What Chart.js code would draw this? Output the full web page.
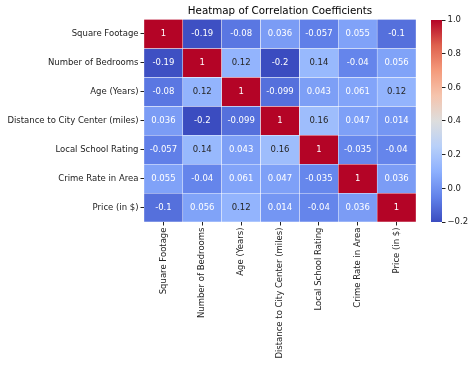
<!DOCTYPE html>
<html><head><meta charset="utf-8">
<script src="https://cdn.jsdelivr.net/npm/chart.js@4"></script>
<style>
html,body{margin:0;padding:0;background:#fff;}
#wrap{position:relative;width:474px;height:366px;}
#main{position:absolute;left:0;top:0;}
#cbar{position:absolute;left:420px;top:0;}
</style></head>
<body><div id="wrap">
<canvas id="main" width="474" height="366"></canvas>
<canvas id="cbar" width="54" height="366"></canvas>
</div>
<script>
const variables = ["Square Footage","Number of Bedrooms","Age (Years)","Distance to City Center (miles)","Local School Rating","Crime Rate in Area","Price (in $)"];
const rowSquareFootage = [1, -0.19, -0.08, 0.036, -0.057, 0.055, -0.1];
const rowBedrooms      = [-0.19, 1, 0.12, -0.2, 0.14, -0.04, 0.056];
const rowAge           = [-0.08, 0.12, 1, -0.099, 0.043, 0.061, 0.12];
const rowDistance      = [0.036, -0.2, -0.099, 1, 0.16, 0.047, 0.014];
const rowSchool        = [-0.057, 0.14, 0.043, 0.16, 1, -0.035, -0.04];
const rowCrime         = [0.055, -0.04, 0.061, 0.047, -0.035, 1, 0.036];
const rowPrice         = [-0.1, 0.056, 0.12, 0.014, -0.04, 0.036, 1];
const colorbarTicks = [-0.2, 0, 0.2, 0.4, 0.6, 0.8, 1.0];

const matrix = [rowSquareFootage,rowBedrooms,rowAge,rowDistance,rowSchool,rowCrime,rowPrice];
const vmin = -0.2, vmax = 1;

// approximate matplotlib coolwarm
const cwStops = [[59,76,192],[98,130,234],[141,176,254],[184,208,249],[221,221,221],[245,196,173],[244,154,123],[222,96,77],[180,4,38]];
function coolwarm(t){
  t = Math.max(0, Math.min(1, t));
  const p = t*(cwStops.length-1); const i = Math.min(Math.floor(p), cwStops.length-2); const f = p-i;
  const a = cwStops[i], b = cwStops[i+1];
  return [0,1,2].map(k=>Math.round(a[k]+(b[k]-a[k])*f));
}
function colorFor(v){ const c = coolwarm((v-vmin)/(vmax-vmin)); return `rgb(${c[0]},${c[1]},${c[2]})`; }
function lum(v){
  const c = coolwarm((v-vmin)/(vmax-vmin)).map(x=>{x/=255;return x<=0.03928?x/12.92:Math.pow((x+0.055)/1.055,2.4);});
  return 0.2126*c[0]+0.7152*c[1]+0.0722*c[2];
}
function fmt(v){ return String(Number(v.toPrecision(2))); }

const FONT = "'DejaVu Sans', sans-serif";
const FS = 8.5;
const datasets = matrix.map((row, r) => ({
  label: variables[r],
  data: row.map(() => [r, r+1]),
  values: row,
  backgroundColor: row.map(colorFor),
  borderColor: '#ffffff',
  borderWidth: 0.5,
  borderSkipped: false,
  grouped: false,
  barPercentage: 1,
  categoryPercentage: 1
}));

const annot = {
  id: 'annot',
  afterDatasetsDraw(chart){
    const ctx = chart.ctx;
    ctx.save();
    ctx.font = `${FS}px ${FONT}`;
    ctx.textAlign = 'center'; ctx.textBaseline = 'middle';
    chart.data.datasets.forEach((ds, di) => {
      const meta = chart.getDatasetMeta(di);
      meta.data.forEach((el, j) => {
        const v = ds.values[j];
        ctx.fillStyle = lum(v) > 0.408 ? '#262626' : '#ffffff';
        ctx.fillText(fmt(v), el.x, (el.y + el.base)/2);
      });
    });
    ctx.restore();
  }
};

new Chart(document.getElementById('main'), {
  type: 'bar',
  data: { labels: variables, datasets },
  options: {
    responsive: false, animation: false, devicePixelRatio: 1,
    layout: { padding: { left: 0, right: 58, top: 0, bottom: 0 } },
    plugins: {
      legend: { display: false }, tooltip: { enabled: false },
      title: { display: true, text: 'Heatmap of Correlation Coefficients', fullSize: false,
        color: '#000', font: { family: FONT, size: 10.3, weight: 'normal' }, padding: { top: 5, bottom: 2 } }
    },
    scales: {
      x: {
        type: 'category', offset: true,
        border: { display: false },
        grid: { offset: false, drawOnChartArea: false, tickLength: 3.5, color: '#222' },
        ticks: { color: '#222', font: { family: FONT, size: FS }, minRotation: 90, maxRotation: 90, autoSkip: false, padding: 2 },
        afterFit(s){ s.height = 144; }
      },
      y: {
        type: 'linear', min: 0, max: 7, reverse: true,
        border: { display: false },
        grid: { drawOnChartArea: false, tickLength: 3.5, color: '#222' },
        afterBuildTicks(s){ s.ticks = variables.map((_, i) => ({ value: i + 0.5 })); },
        ticks: { color: '#222', font: { family: FONT, size: FS }, autoSkip: false, padding: 2,
          callback: (v, i) => variables[i] },
        afterFit(s){ s.width = 144; }
      }
    }
  },
  plugins: [annot]
});

new Chart(document.getElementById('cbar'), {
  type: 'bar',
  data: { labels: [''], datasets: [{
    data: [[vmin, vmax]],
    backgroundColor(c){
      const ch = c.chart, ca = ch.chartArea;
      if (!ca) return '#888';
      const g = ch.ctx.createLinearGradient(0, ca.bottom, 0, ca.top);
      for (let i = 0; i <= 32; i++) g.addColorStop(i/32, colorFor(vmin + (vmax-vmin)*i/32));
      return g;
    },
    borderWidth: 0, borderSkipped: false, barPercentage: 1, categoryPercentage: 1
  }]},
  options: {
    responsive: false, animation: false, devicePixelRatio: 1,
    layout: { padding: { left: 11, right: 0, top: 20, bottom: 0 } },
    plugins: { legend: { display: false }, tooltip: { enabled: false } },
    scales: {
      x: { display: false, afterFit(s){ s.height = 144; } },
      y: {
        position: 'right', min: vmin, max: vmax,
        border: { display: false },
        grid: { drawOnChartArea: false, tickLength: 3.5, color: '#222' },
        afterBuildTicks(s){ s.ticks = colorbarTicks.map(v => ({ value: v })); },
        ticks: { color: '#222', font: { family: FONT, size: FS }, padding: 2,
          callback: (v) => (v < 0 ? '\u2212' : '') + Math.abs(v).toFixed(1) },
        afterFit(s){ s.width = 32; }
      }
    }
  }
});
</script>
</body></html>
